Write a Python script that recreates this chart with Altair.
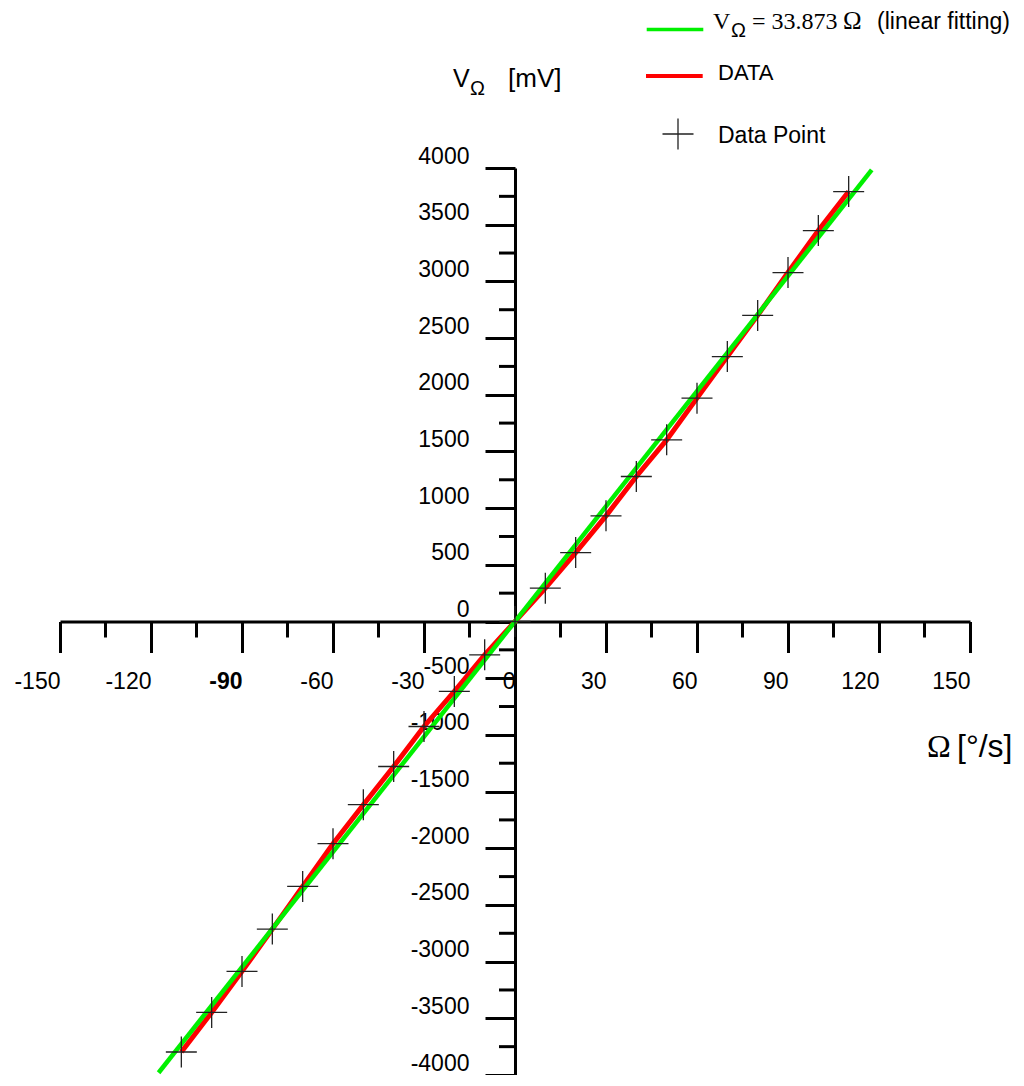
import altair as alt
import pandas as pd

# ---- data ----
omega = [-110, -100, -90, -80, -70, -60, -50, -40, -30, -20, -10, 0,
         10, 20, 30, 40, 50, 60, 70, 80, 90, 100, 110]
v_omega = [-3797, -3448, -3086, -2713, -2337, -1960, -1616, -1279, -926, -617, -294, 0,
           294, 608, 932, 1279, 1602, 1970, 2337, 2700, 3078, 3448, 3792]
fit_omega = [-117.5, 117.6]
fit_v = [-3980, 3983]

x_major = [-150, -120, -90, -60, -30, 0, 30, 60, 90, 120, 150]
x_minor = [-135, -105, -75, -45, -15, 15, 45, 75, 105, 135]
y_major = [-4000, -3500, -3000, -2500, -2000, -1500, -1000, -500, 0,
           500, 1000, 1500, 2000, 2500, 3000, 3500, 4000]
y_minor = [-3750, -3250, -2750, -2250, -1750, -1250, -750, -250,
           250, 750, 1250, 1750, 2250, 2750, 3250, 3750]

data_df = pd.DataFrame({"omega": omega, "v": v_omega})
fit_df = pd.DataFrame({"omega": fit_omega, "v": fit_v})
xminor_df = pd.DataFrame({"omega": x_minor})
yminor_df = pd.DataFrame({"v": y_minor})
dummy = pd.DataFrame({"d": [0]})

SANS = "Liberation Sans"
SERIF = "Liberation Serif"
CROSS = "M-1,0H1M0,-1V1"
GREEN = "#00f000"
RED = "#ff0000"

W, H = 910, 907
TOP = 160
xs = alt.Scale(domain=[-150, 150], nice=False, zero=False)
ys = alt.Scale(domain=[-4000, 4000], nice=False, zero=False)

x_axis = alt.Axis(
    values=x_major, orient="bottom", offset=-H / 2, grid=False, title=None,
    domainColor="black", domainWidth=3, tickColor="black", tickWidth=3, tickSize=31,
    labelFont=SANS, labelFontSize=23, labelColor="black", labelAlign="right",
    labelBaseline="top", labelPadding=18, labelFlush=False, labelOverlap=False,
    labelBound=False, labelExpr="'' + datum.value",
    labelFontWeight={"condition": {"test": "datum.value === -90", "value": "bold"},
                     "value": "normal"},
)
y_axis = alt.Axis(
    values=y_major, orient="left", offset=-W / 2, grid=False, title=None,
    domainColor="black", domainWidth=3, tickColor="black", tickWidth=3, tickSize=30,
    labelFont=SANS, labelFontSize=23, labelColor="black", labelAlign="right",
    labelBaseline="alphabetic", labelOffset=-5, labelPadding=16, labelFlush=False,
    labelOverlap=False, labelBound=False, labelExpr="'' + datum.value",
)

X = alt.X("omega:Q", scale=xs, axis=x_axis)
Y = alt.Y("v:Q", scale=ys, axis=y_axis)

red_line = alt.Chart(data_df).mark_line(color=RED, strokeWidth=5).encode(x=X, y=Y)
green_line = alt.Chart(fit_df).mark_line(color=GREEN, strokeWidth=4.5).encode(x=X, y=Y)
points = alt.Chart(data_df).mark_point(
    shape=CROSS, size=961, filled=False, strokeWidth=1.3, color="#222222", opacity=1
).encode(x=X, y=Y)

x_minor_ticks = alt.Chart(xminor_df).mark_tick(
    orient="vertical", size=16, thickness=3, color="black", opacity=1
).encode(
    x=X,
    y=alt.datum(0, scale=ys, axis=y_axis),
    yOffset=alt.value(8),
)
y_minor_ticks = alt.Chart(yminor_df).mark_tick(
    orient="horizontal", size=16, thickness=3, color="black", opacity=1
).encode(
    y=Y,
    x=alt.datum(0, scale=xs, axis=x_axis),
    xOffset=alt.value(-8),
)


def txt(text, x, page_y, font=SANS, size=23):
    return alt.Chart(dummy).mark_text(
        text=text, font=font, fontSize=size, align="left", baseline="alphabetic",
        color="black"
    ).encode(x=alt.value(x), y=alt.value(page_y - 8 - TOP))


annotations = [
    # y-axis title  V_Ω [mV]
    txt("V", 393, 87, SANS, 25),
    txt("Ω", 410, 95, SANS, 20),
    txt("[mV]", 448, 87, SANS, 26),
    # x-axis title  Ω [°/s]
    txt("Ω", 867, 757, SERIF, 32),
    txt("[°/s]", 897, 757, SANS, 32),
    # legend texts
    txt("V", 653, 29, SERIF, 24),
    txt("Ω", 671, 37, SANS, 20),
    txt("= 33.873", 692, 29, SERIF, 24),
    txt("Ω", 783, 29, SERIF, 25),
    txt("(linear fitting)", 817, 29, SANS, 23),
    txt("DATA", 658, 80, SANS, 22),
    txt("Data Point", 658, 143, SANS, 23),
]

legend_green = alt.Chart(dummy).mark_rule(color=GREEN, strokeWidth=3.5).encode(
    x=alt.value(586.7), x2=alt.value(643.3), y=alt.value(29.5 - 8 - TOP)
)
legend_red = alt.Chart(dummy).mark_rule(color=RED, strokeWidth=4).encode(
    x=alt.value(586), x2=alt.value(642.7), y=alt.value(76 - 8 - TOP)
)
legend_cross = alt.Chart(dummy).mark_point(
    shape=CROSS, size=961, filled=False, strokeWidth=1.3, color="#222222", opacity=1
).encode(x=alt.value(618), y=alt.value(134 - 8 - TOP))

chart = alt.layer(
    red_line, x_minor_ticks, y_minor_ticks, green_line, points,
    legend_green, legend_red, legend_cross, *annotations
).properties(
    width=W, height=H,
    autosize=alt.AutoSizeParams(type="none"),
    padding={"left": 52, "top": TOP, "right": 46, "bottom": 0},
    background="white",
).configure_view(stroke=None)

chart.save("out.html", embed_options={"renderer": "svg", "actions": False})
